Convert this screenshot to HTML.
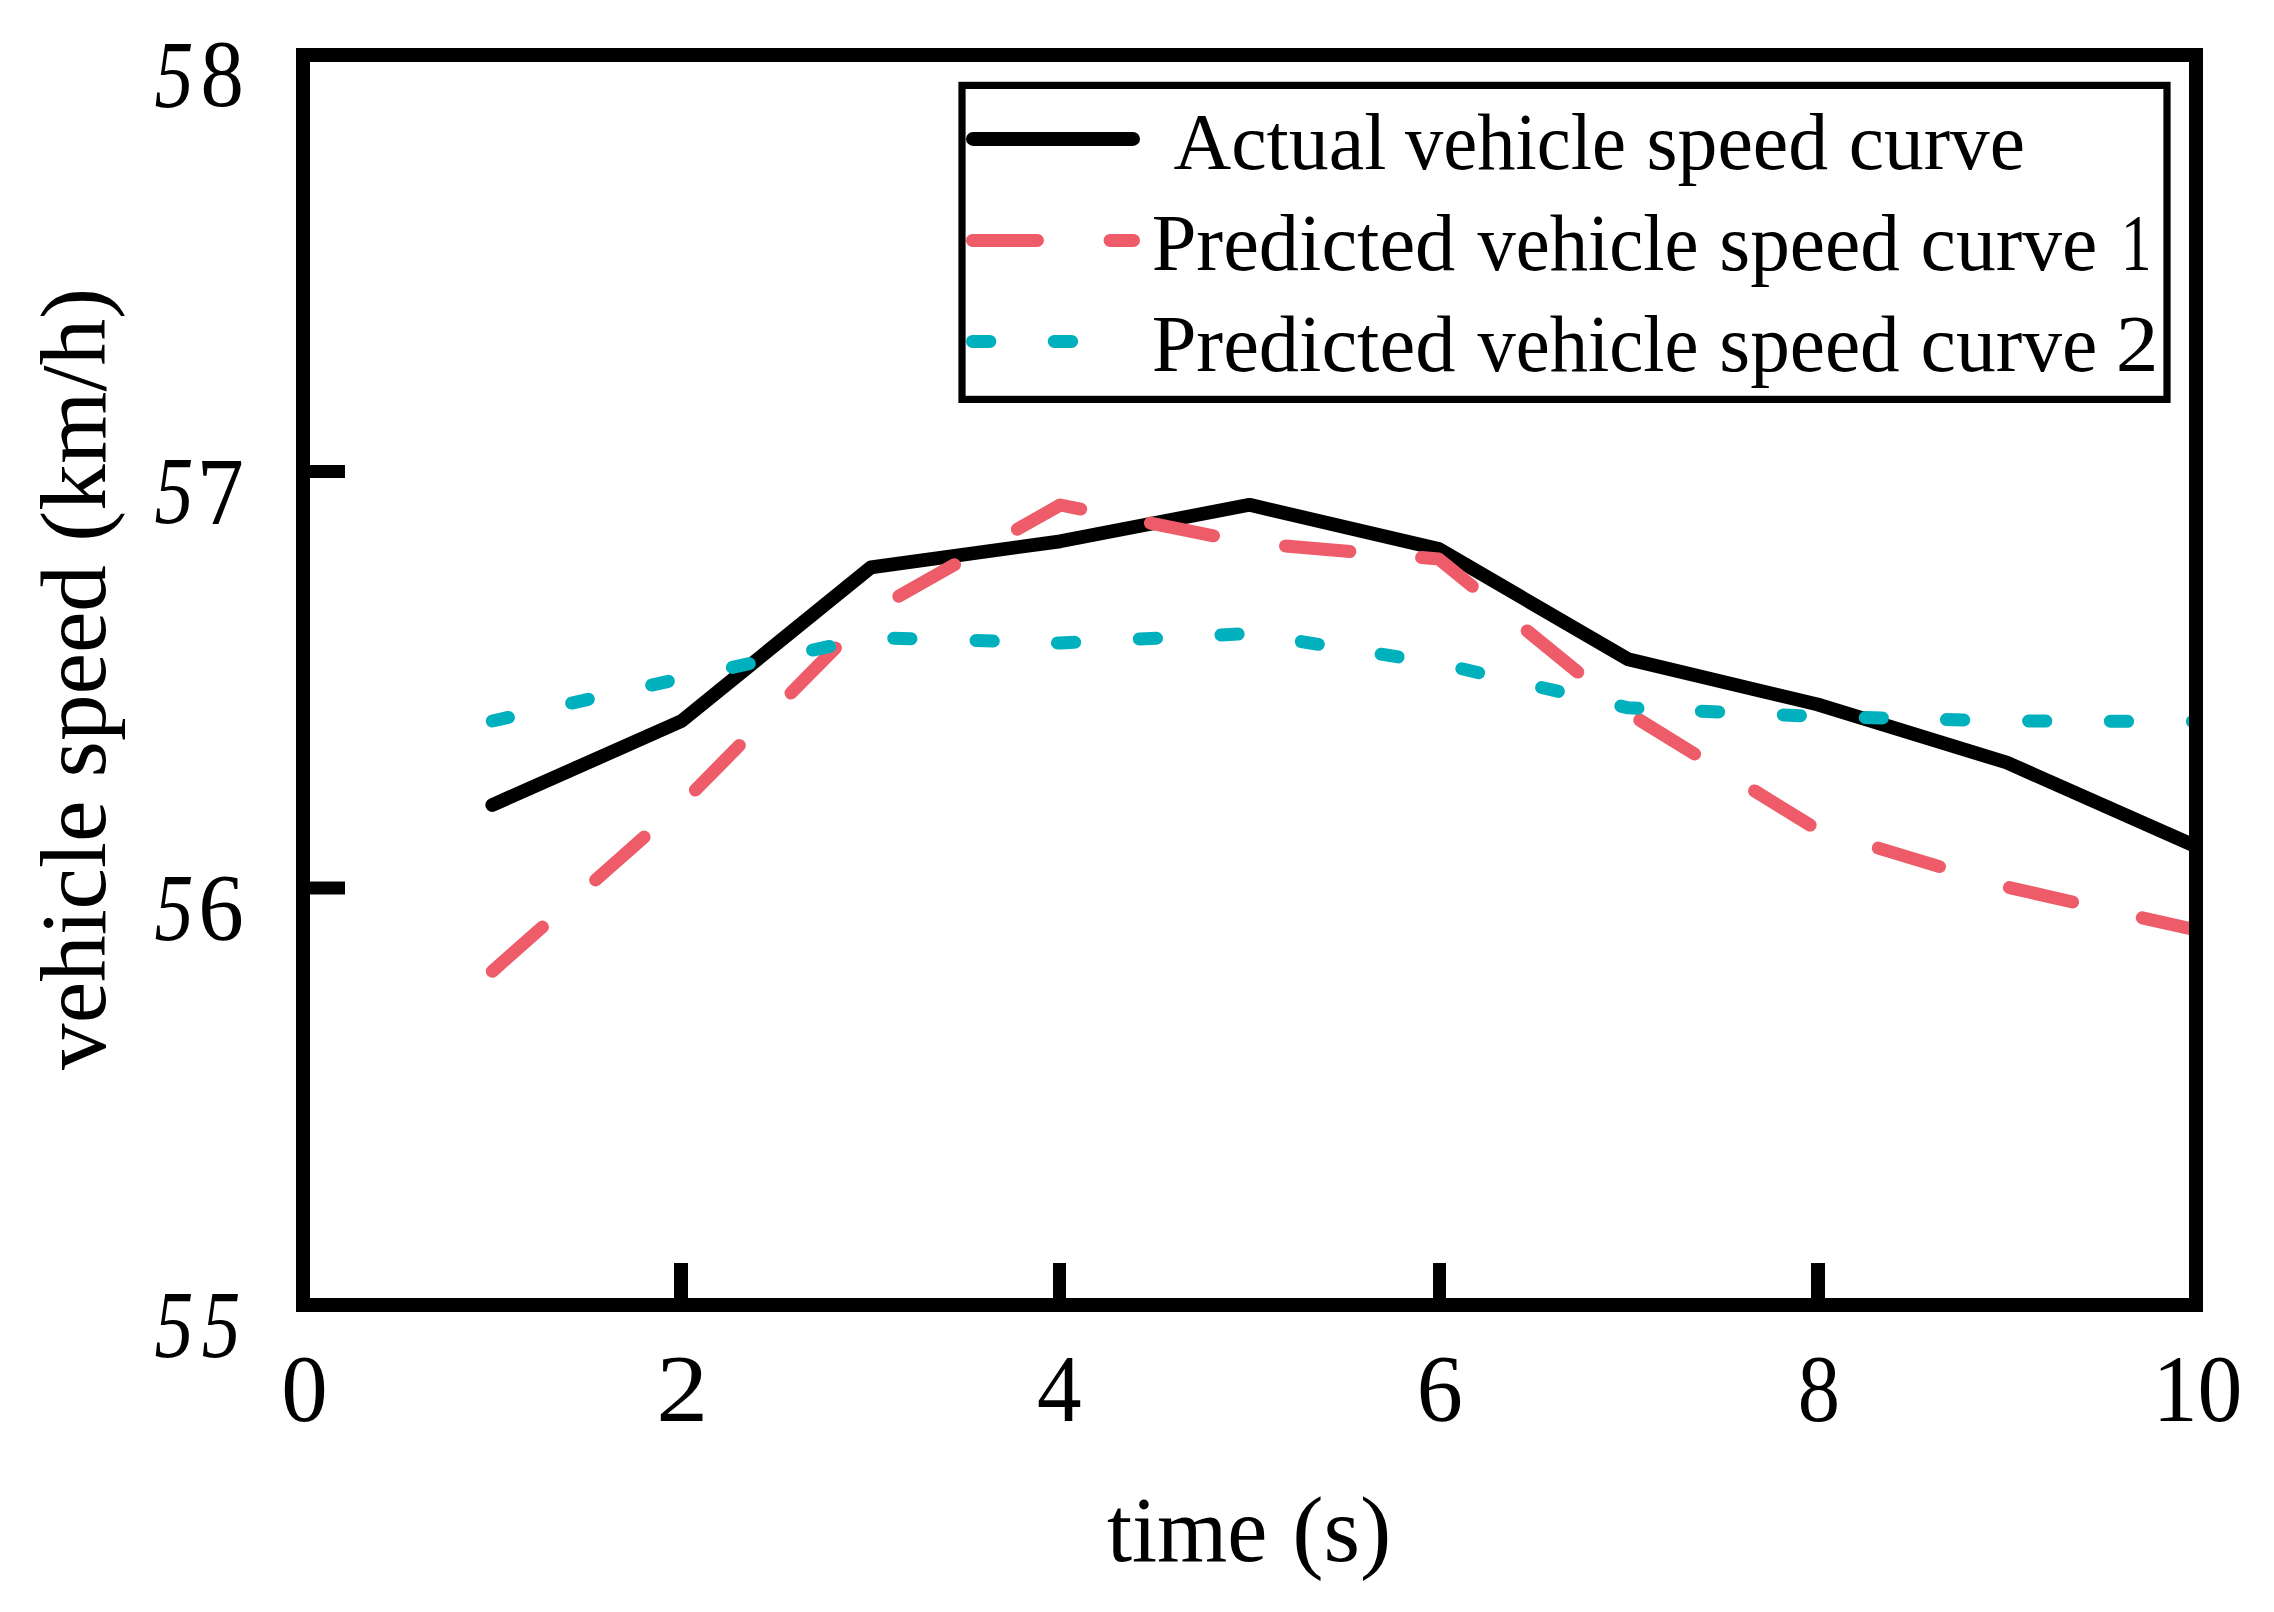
<!DOCTYPE html>
<html lang="en"><head><meta charset="utf-8"><title>Vehicle speed curves</title>
<style>html,body{margin:0;padding:0;background:#fff}body{width:2274px;height:1612px;overflow:hidden}svg{display:block}text{font-family:"Liberation Serif",serif;fill:#000}</style></head><body>
<svg width="2274" height="1612" viewBox="0 0 2274 1612">
<rect x="0" y="0" width="2274" height="1612" fill="#fff"/>
<defs><clipPath id="plot"><rect x="303" y="55" width="1893" height="1250"/></clipPath></defs>
<g clip-path="url(#plot)" fill="none" stroke-linecap="round" stroke-linejoin="round" stroke-width="13">
<polyline points="492.3,805.0 681.6,721.0 870.9,567.3 1060.2,541.3 1249.5,504.8 1438.8,549.0 1628.1,659.3 1817.4,704.4 2006.7,762.5 2196.0,846.4" stroke="#000" stroke-width="13.8"/>
<g stroke="#ED5C68">
<polyline points="492.3,971.3 542.4,927.0"/>
<polyline points="595.6,880.0 644.1,837.1"/>
<polyline points="695.4,790.0 739.3,745.5"/>
<polyline points="791.0,693.0 835.5,647.9"/>
<polyline points="898.8,596.2 954.5,564.7"/>
<polyline points="1017.4,529.2 1060.2,505.0 1080.7,509.1"/>
<polyline points="1150.4,523.1 1213.5,535.8"/>
<polyline points="1285.5,546.0 1349.9,551.5"/>
<polyline points="1421.6,557.5 1438.8,559.0 1472.3,586.3"/>
<polyline points="1527.2,630.9 1577.8,672.1"/>
<polyline points="1639.7,720.1 1694.6,754.0"/>
<polyline points="1754.6,790.9 1810.1,825.1"/>
<polyline points="1878.3,848.1 1939.5,866.6"/>
<polyline points="2009.4,887.6 2072.6,902.0"/>
<polyline points="2142.3,917.8 2196.0,930.0"/>
</g>
<g stroke="#00B1BD">
<polyline points="492.3,721.0 508.4,717.4"/>
<polyline points="571.6,703.1 588.4,699.3"/>
<polyline points="651.6,685.1 668.4,681.3"/>
<polyline points="732.3,667.4 749.3,663.7"/>
<polyline points="812.6,650.1 829.6,646.4"/>
<polyline points="893.8,638.2 911.0,638.7"/>
<polyline points="976.1,640.6 993.3,641.1"/>
<polyline points="1057.4,642.9 1060.2,643.0 1074.6,642.3"/>
<polyline points="1139.3,639.0 1156.5,638.2"/>
<polyline points="1221.0,634.9 1238.2,634.1"/>
<polyline points="1301.3,641.6 1318.3,644.3"/>
<polyline points="1381.1,654.2 1398.1,656.9"/>
<polyline points="1461.8,668.7 1478.6,672.7"/>
<polyline points="1541.6,687.5 1558.4,691.4"/>
<polyline points="1620.8,706.1 1628.1,707.8 1638.0,708.3"/>
<polyline points="1701.4,711.2 1718.6,712.0"/>
<polyline points="1783.3,714.9 1800.5,715.7"/>
<polyline points="1865.2,717.6 1882.4,718.0"/>
<polyline points="1946.4,719.6 1963.7,720.0"/>
<polyline points="2028.6,721.0 2045.8,721.1"/>
<polyline points="2110.4,721.2 2127.6,721.3"/>
<polyline points="2192.4,721.4 2196.0,721.4"/>
</g>
</g>
<rect x="303" y="55" width="1893" height="1250" fill="none" stroke="#000" stroke-width="14"/>
<rect x="674" y="1263" width="14" height="36" fill="#000"/>
<rect x="1053" y="1263" width="13" height="36" fill="#000"/>
<rect x="1433" y="1263" width="13" height="36" fill="#000"/>
<rect x="1811" y="1263" width="14" height="36" fill="#000"/>
<rect x="309" y="465.0" width="36" height="13" fill="#000"/>
<rect x="309" y="881.5" width="36" height="13" fill="#000"/>
<rect x="962" y="85.4" width="1205" height="314" fill="#fff" stroke="#000" stroke-width="7.2"/>
<g fill="none" stroke-linecap="round" stroke-width="13">
<line x1="973" y1="138.9" x2="1133" y2="138.9" stroke="#000" stroke-width="14"/>
<line x1="972.5" y1="240.4" x2="1133.5" y2="240.4" stroke="#ED5C68" stroke-dasharray="64.9 72.7"/>
<line x1="972.5" y1="341.4" x2="1133.5" y2="341.4" stroke="#00B1BD" stroke-dasharray="17.3 64.5"/>
</g>
<text transform="translate(1173.45 168.98) scale(0.9986 1.0069)" font-size="80">Actual </text><text transform="translate(1405.00 168.98) scale(0.9564 1.0069)" font-size="80">vehicle </text><text transform="translate(1646.46 168.98) scale(0.9978 1.0069)" font-size="80">speed </text><text transform="translate(1848.82 168.98) scale(0.9919 1.0069)" font-size="80">curve</text>
<text transform="translate(1151.64 269.81) scale(1.0054 1.0055)" font-size="80">Predicted </text><text transform="translate(1477.40 269.81) scale(0.9573 1.0055)" font-size="80">vehicle </text><text transform="translate(1719.28 269.81) scale(0.9910 1.0055)" font-size="80">speed </text><text transform="translate(1920.62 269.81) scale(0.9942 1.0055)" font-size="80">curve </text><text transform="translate(2120.80 269.81) scale(0.7717 1.0055)" font-size="80">1</text>
<text transform="translate(1151.64 370.64) scale(1.0054 1.0097)" font-size="80">Predicted </text><text transform="translate(1477.40 370.64) scale(0.9573 1.0097)" font-size="80">vehicle </text><text transform="translate(1719.28 370.64) scale(0.9910 1.0097)" font-size="80">speed </text><text transform="translate(1920.62 370.64) scale(0.9942 1.0097)" font-size="80">curve </text><text transform="translate(2115.76 370.64) scale(1.0687 1.0097)" font-size="80">2</text>
<text transform="translate(1106.93 1561.29) scale(0.9708 0.9982)" font-size="93">time </text><text transform="translate(1292.16 1561.29) scale(1.0111 0.9982)" font-size="93">(s)</text>
<text transform="matrix(0 -1 1 0 41.00 1070.00) translate(0.00 64.39) scale(1.0030 0.9982)" font-size="93">vehicle speed (km/h)</text>
<text transform="translate(281.35 1421.00) scale(0.9850 1.0039)" font-size="94.4">0</text>
<text transform="translate(656.32 1420.70) scale(1.1020 1.0064)" font-size="94.4">2</text>
<text transform="translate(1036.95 1420.70) scale(0.9455 1.0104)" font-size="94.4">4</text>
<text transform="translate(1416.69 1420.69) scale(0.9778 1.0063)" font-size="94.4">6</text>
<text transform="translate(1797.87 1420.69) scale(0.8950 1.0102)" font-size="94.4">8</text>
<text transform="translate(2152.76 1421.00) scale(0.9503 1.0039)" font-size="94.4">10</text>
<text transform="translate(154.56 106.59) scale(0.8234 1.0056)" font-size="94.4" font-style="italic">5</text><text transform="translate(200.39 106.09) scale(0.9175 1.0102)" font-size="94.4">8</text>
<text transform="translate(154.56 523.09) scale(0.8234 1.0056)" font-size="94.4" font-style="italic">5</text><text transform="translate(201.24 524.00) scale(1.0156 1.0202) skewX(5)" font-size="94.4">7</text>
<text transform="translate(154.56 939.59) scale(0.8234 1.0056)" font-size="94.4" font-style="italic">5</text><text transform="translate(198.14 939.99) scale(0.9654 1.0094)" font-size="94.4">6</text>
<text transform="translate(154.56 1356.59) scale(0.8234 1.0056)" font-size="94.4" font-style="italic">5</text><text transform="translate(201.78 1356.99) scale(0.8164 1.0072)" font-size="94.4" font-style="italic">5</text>
</svg></body></html>
